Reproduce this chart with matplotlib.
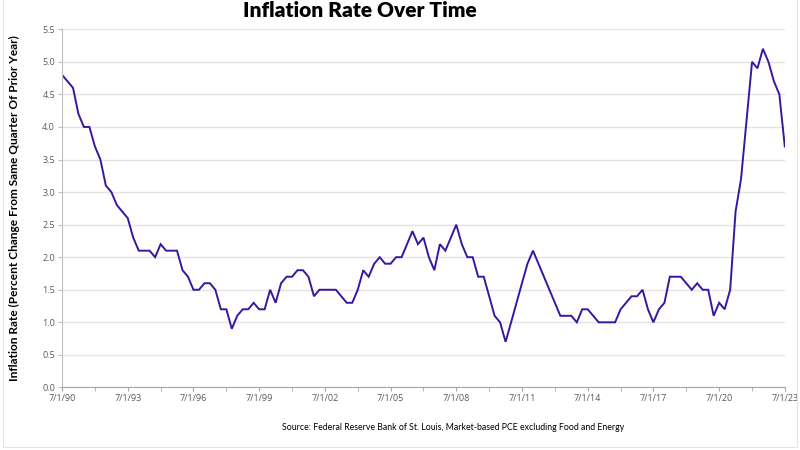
import matplotlib
matplotlib.use("Agg")
import matplotlib.pyplot as plt
import pandas as pd

start_date = "1990-07-01"
inflation = [
    4.8, 4.7,
    4.6, 4.2, 4.0, 4.0,
    3.7, 3.5, 3.1, 3.0,
    2.8, 2.7, 2.6, 2.3,
    2.1, 2.1, 2.1, 2.0,
    2.2, 2.1, 2.1, 2.1,
    1.8, 1.7, 1.5, 1.5,
    1.6, 1.6, 1.5, 1.2,
    1.2, 0.9, 1.1, 1.2,
    1.2, 1.3, 1.2, 1.2,
    1.5, 1.3, 1.6, 1.7,
    1.7, 1.8, 1.8, 1.7,
    1.4, 1.5, 1.5, 1.5,
    1.5, 1.4, 1.3, 1.3,
    1.5, 1.8, 1.7, 1.9,
    2.0, 1.9, 1.9, 2.0,
    2.0, 2.2, 2.4, 2.2,
    2.3, 2.0, 1.8, 2.2,
    2.1, 2.3, 2.5, 2.2,
    2.0, 2.0, 1.7, 1.7,
    1.4, 1.1, 1.0, 0.7,
    1.0, 1.3, 1.6, 1.9,
    2.1, 1.9, 1.7, 1.5,
    1.3, 1.1, 1.1, 1.1,
    1.0, 1.2, 1.2, 1.1,
    1.0, 1.0, 1.0, 1.0,
    1.2, 1.3, 1.4, 1.4,
    1.5, 1.2, 1.0, 1.2,
    1.3, 1.7, 1.7, 1.7,
    1.6, 1.5, 1.6, 1.5,
    1.5, 1.1, 1.3, 1.2,
    1.5, 2.7, 3.2, 4.1,
    5.0, 4.9, 5.2, 5.0,
    4.7, 4.5, 3.7,
]
dates = pd.date_range(start_date, periods=len(inflation), freq="QS-JAN")

y_ticks = [0.0, 0.5, 1.0, 1.5, 2.0, 2.5, 3.0, 3.5, 4.0, 4.5, 5.0, 5.5]
major_years = list(range(1990, 2024, 3))

title = "Inflation Rate Over Time"
ylabel = "Inflation Rate (Percent Change From Same Quarter Of Prior Year)"
source = "Source: Federal Reserve Bank of St. Louis, Market-based PCE excluding Food and Energy"

fig = plt.figure(figsize=(8, 4.5), dpi=100)
fig.patch.set_facecolor("white")
ax = fig.add_axes([0.0775, 0.139, 0.9035, 0.796])

ax.plot(dates, inflation, color="#3a16a0", lw=1.4, solid_joinstyle="miter")

ax.set_ylim(0, 5.5)
ax.set_yticks(y_ticks)
ax.set_yticklabels([f"{v:.1f}" for v in y_ticks])
ax.set_xlim(pd.Timestamp("1990-07-01"), pd.Timestamp("2023-07-01"))
major = [pd.Timestamp(f"{y}-07-01") for y in major_years]
minor = [pd.Timestamp(f"{y + 2}-01-01") for y in major_years[:-1]]
ax.set_xticks(major)
ax.set_xticklabels([f"7/1/{str(d.year)[2:]}" for d in major])
ax.set_xticks(minor, minor=True)

ax.grid(axis="y", color="#e3e3e3", lw=1.0)
ax.set_axisbelow(True)
for s in ["top", "right"]:
    ax.spines[s].set_visible(False)
ax.spines["left"].set_color("#bfbfbf")
ax.spines["bottom"].set_color("#a6a6a6")
ax.tick_params(axis="y", length=3, color="#bfbfbf", labelsize=6.5, labelcolor="#595959", pad=2)
ax.tick_params(axis="x", which="both", length=3, color="#a6a6a6", labelsize=6.5, labelcolor="#595959", pad=2)
for lab in ax.get_xticklabels() + ax.get_yticklabels():
    lab.set_family("Open Sans")

ax.set_ylabel(ylabel, fontsize=8.6, fontweight="bold", family="Lato", color="black")
ax.yaxis.set_label_coords(-0.058, 0.5)

fig.text(0.45, 0.977, title, ha="center", va="center", fontsize=15, fontweight="heavy", family="Lato")
fig.text(0.567, 0.049, source, ha="center", va="center", fontsize=6.3, family="Lato", color="black")

# faint frame like the source
fig.add_artist(plt.Line2D([0.004, 0.004], [0.006, 1.0], color="#e6e6e6", lw=0.8, transform=fig.transFigure))
fig.add_artist(plt.Line2D([0.004, 0.996], [0.006, 0.006], color="#e6e6e6", lw=0.8, transform=fig.transFigure))
fig.add_artist(plt.Line2D([0.996, 0.996], [0.006, 1.0], color="#e6e6e6", lw=0.8, transform=fig.transFigure))

fig.savefig("out.png", dpi=100, facecolor="white")
